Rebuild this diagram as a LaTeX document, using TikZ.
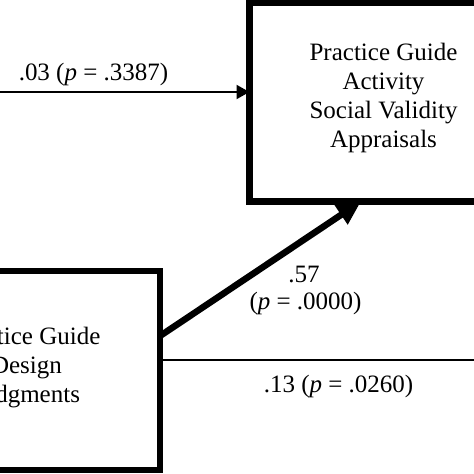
\documentclass[tikz,border=0pt]{standalone}
\usepackage{fontspec}
\setmainfont{Liberation Serif}
\usetikzlibrary{arrows.meta}
\begin{document}
\begin{tikzpicture}[x=1pt,y=-1pt,
  box/.style={draw=black,line width=6.5pt,rectangle,inner sep=0pt,outer sep=0pt},
  boxtext/.style={align=center,inner sep=0pt,font=\fontsize{25}{29}\selectfont},
  lab/.style={inner sep=0pt,font=\fontsize{25}{29}\selectfont},
  thin/.style={line width=2pt,-{Triangle[length=13pt,width=14pt]}},
  plain/.style={line width=2pt},
  bigarrow/.style={line width=6.5pt,-{Triangle[length=24pt,width=22pt]}}]
\useasboundingbox (0,0) rectangle (474,474);
\clip (0,0) rectangle (474,474);
\fill[white] (0,0) rectangle (474,474);
% boxes
\node[box,minimum width=267.5pt,minimum height=198.5pt] (R) at (383.25,102.25) {};
\node[boxtext] (Rt) at (383.5,98) {Practice Guide\\Activity\\Social Validity\\Appraisals};
\node[box,minimum width=267pt,minimum height=199pt] (L) at (26.5,370.5) {};
\node[boxtext] (Lt) at (26.5,368) {Practice Guide\\Design\\Judgments};
% connectors
\coordinate (in) at (-10,92);
\draw[thin] (in) -- (in -| R.west);
\draw[bigarrow] (L.east |- 0,336) -- (361,0 |- R.south);
\coordinate (out) at (490,359.5);
\draw[plain] (L.east |- out) -- (out);
% labels
\node[lab] (l1) at (93.5,74) {.03 (\textit{p} = .3387)};
\node[lab] (l2a) at (304,274) {.57};
\node[lab] (l2b) at (305.5,303) {(\textit{p} = .0000)};
\node[lab] (l3) at (338.5,386) {.13 (\textit{p} = .0260)};
\end{tikzpicture}
\end{document}
